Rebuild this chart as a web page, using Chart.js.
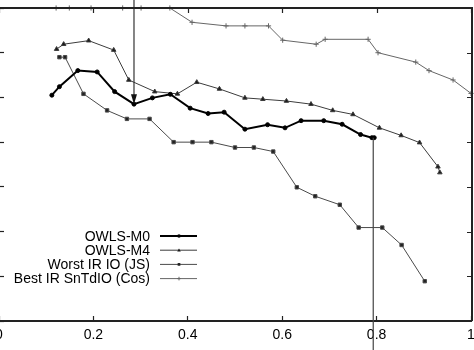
<!DOCTYPE html>
<html>
<head>
<meta charset="utf-8">
<script src="https://cdn.jsdelivr.net/npm/chart.js@4/dist/chart.umd.min.js"></script>
<style>
  html, body { margin: 0; padding: 0; background: #fff; }
  #wrap { position: relative; width: 474px; height: 350px; overflow: hidden; background: #fff; }
  #c { position: absolute; left: -60px; top: -40px; }
</style>
</head>
<body>
<div id="wrap"><canvas id="c" width="600" height="430"></canvas></div>
<script>
// Precision / recall curves
const recallM0    = [0.112, 0.128, 0.167, 0.208, 0.245, 0.286, 0.325, 0.363, 0.405, 0.443, 0.477, 0.521, 0.569, 0.606, 0.640, 0.688, 0.727, 0.766, 0.790, 0.795];
const precisionM0 = [0.805, 0.824, 0.860, 0.857, 0.813, 0.785, 0.799, 0.807, 0.776, 0.764, 0.767, 0.729, 0.739, 0.732, 0.748, 0.748, 0.740, 0.717, 0.710, 0.710];

const recallM4    = [0.122, 0.137, 0.190, 0.243, 0.275, 0.330, 0.378, 0.419, 0.467, 0.521, 0.559, 0.609, 0.661, 0.707, 0.750, 0.806, 0.852, 0.891, 0.930, 0.934];
const precisionM4 = [0.908, 0.919, 0.927, 0.906, 0.839, 0.813, 0.808, 0.834, 0.819, 0.799, 0.796, 0.792, 0.785, 0.771, 0.762, 0.732, 0.715, 0.699, 0.645, 0.632];

const recallWorst    = [0.128, 0.140, 0.179, 0.229, 0.271, 0.319, 0.370, 0.410, 0.450, 0.500, 0.540, 0.581, 0.631, 0.670, 0.722, 0.762, 0.812, 0.853, 0.902];
const precisionWorst = [0.890, 0.890, 0.808, 0.771, 0.752, 0.752, 0.700, 0.700, 0.700, 0.688, 0.688, 0.679, 0.599, 0.579, 0.560, 0.509, 0.509, 0.470, 0.389];

const recallBest    = [0.121, 0.149, 0.195, 0.262, 0.301, 0.362, 0.409, 0.481, 0.521, 0.571, 0.601, 0.672, 0.691, 0.782, 0.803, 0.883, 0.911, 0.962, 1.000];
const precisionBest = [1.000, 1.000, 1.000, 1.000, 1.000, 1.000, 0.968, 0.960, 0.960, 0.960, 0.928, 0.919, 0.930, 0.930, 0.900, 0.879, 0.860, 0.839, 0.809];

const seriesLabels = ['OWLS-M0', 'OWLS-M4', 'Worst IR IO (JS)', 'Best IR SnTdIO (Cos)'];

const xTickValues = [0, 0.2, 0.4, 0.6, 0.8, 1];
const xTickLabels = ['0', '0.2', '0.4', '0.6', '0.8', '1'];
const yTickValues = [0.3, 0.4, 0.5, 0.6, 0.7, 0.8, 0.9, 1.0];

// M0 points that the two pointer lines are attached to
const pointerDownIndex = 5;
const pointerUpIndex = recallM0.length - 1;

const FONT = "'Liberation Sans', Arial, Helvetica, sans-serif";
// the canvas is shifted inside the page; these convert page coords to canvas coords
const SHIFT_X = 60, SHIFT_Y = 40;
const FRAME_COLOR = '#222';
const TICK_LEN = 5;

const toPoints = (xs, ys) => xs.map((v, i) => ({ x: v, y: ys[i] }));

const datasets = [
  { label: seriesLabels[0], data: toPoints(recallM0, precisionM0),
    borderColor: '#000', backgroundColor: '#000', borderWidth: 2,
    pointStyle: 'circle', pointRadius: 2, pointBorderWidth: 1 },
  { label: seriesLabels[1], data: toPoints(recallM4, precisionM4),
    borderColor: '#3c3c3c', backgroundColor: '#1a1a1a', borderWidth: 1,
    pointStyle: 'triangle', pointRadius: 2.6, pointBorderWidth: 1 },
  { label: seriesLabels[2], data: toPoints(recallWorst, precisionWorst),
    borderColor: '#4a4a4a', backgroundColor: '#222', borderWidth: 1,
    pointStyle: 'rect', pointRadius: 2.4, pointBorderWidth: 1 },
  { label: seriesLabels[3], data: toPoints(recallBest, precisionBest),
    borderColor: '#666', backgroundColor: '#666', borderWidth: 1,
    pointStyle: 'cross', pointRadius: 2.6, pointBorderWidth: 1 }
];
datasets.forEach(d => { d.tension = 0; d.clip = false; d.fill = false; d.pointBorderColor = d.borderColor; d.pointBackgroundColor = d.backgroundColor; });

const fixedTicks = (values) => (scale) => { scale.ticks = values.map(v => ({ value: v })); };

// top and right frame lines with mirrored inward ticks, drawn over the curves
const framePlugin = {
  id: 'plotFrame',
  afterDraw(chart) {
    const { ctx, scales: { x, y } } = chart;
    const left = x.getPixelForValue(0), right = x.getPixelForValue(1);
    const top = y.getPixelForValue(1.0), bottom = y.getPixelForValue(0.3);
    ctx.save();
    ctx.strokeStyle = FRAME_COLOR;
    ctx.lineWidth = 2;
    ctx.beginPath();
    ctx.moveTo(left - 2, top);
    ctx.lineTo(right + 1, top);
    ctx.lineTo(right + 1, bottom);
    ctx.stroke();
    ctx.lineWidth = 1.2;
    ctx.beginPath();
    xTickValues.forEach(v => {
      const px = Math.round(x.getPixelForValue(v)) + 0.5;
      ctx.moveTo(px, top); ctx.lineTo(px, top + TICK_LEN);
    });
    yTickValues.forEach(v => {
      const py = Math.round(y.getPixelForValue(v)) + 0.5;
      ctx.moveTo(right + 1, py); ctx.lineTo(right + 1 - TICK_LEN, py);
    });
    ctx.stroke();
    ctx.restore();
  }
};

// vertical pointer lines attached to OWLS-M0 points
const pointerPlugin = {
  id: 'pointers',
  afterDatasetsDraw(chart) {
    const { ctx, scales: { x, y } } = chart;
    ctx.save();
    ctx.strokeStyle = '#333';
    ctx.fillStyle = '#111';
    ctx.lineWidth = 1.2;
    // downward arrow from above the plot
    let px = x.getPixelForValue(recallM0[pointerDownIndex]);
    let py = y.getPixelForValue(precisionM0[pointerDownIndex]);
    ctx.beginPath();
    ctx.moveTo(px, 0);
    ctx.lineTo(px, py - 6);
    ctx.stroke();
    ctx.beginPath();
    ctx.moveTo(px, py);
    ctx.lineTo(px - 3, py - 10);
    ctx.lineTo(px + 3, py - 10);
    ctx.closePath();
    ctx.fill();
    // line from the last point down past the axis
    px = x.getPixelForValue(recallM0[pointerUpIndex]) - 1;
    py = y.getPixelForValue(precisionM0[pointerUpIndex]);
    ctx.strokeStyle = '#444';
    ctx.beginPath();
    ctx.moveTo(px, py);
    ctx.lineTo(px, chart.height);
    ctx.stroke();
    ctx.restore();
  }
};

function drawMarker(ctx, style, cx, cy, r) {
  ctx.beginPath();
  if (style === 'circle') {
    ctx.arc(cx, cy, r, 0, Math.PI * 2); ctx.fill();
  } else if (style === 'triangle') {
    ctx.moveTo(cx, cy - r); ctx.lineTo(cx + r, cy + r * 0.7); ctx.lineTo(cx - r, cy + r * 0.7); ctx.closePath(); ctx.fill();
  } else if (style === 'rect') {
    ctx.rect(cx - r * 0.75, cy - r * 0.75, r * 1.5, r * 1.5); ctx.fill();
  } else {
    ctx.moveTo(cx - r, cy); ctx.lineTo(cx + r, cy); ctx.moveTo(cx, cy - r); ctx.lineTo(cx, cy + r); ctx.stroke();
  }
}

// gnuplot style key: right aligned text with sample line to its right
const keyPlugin = {
  id: 'key',
  afterDraw(chart) {
    const { ctx } = chart;
    const textRight = 150 + SHIFT_X, lineL = 160 + SHIFT_X, lineR = 197 + SHIFT_X, mark = 179 + SHIFT_X;
    const top = 236 + SHIFT_Y, step = 14.2;
    ctx.save();
    ctx.font = '14px ' + FONT;
    ctx.textAlign = 'right';
    ctx.textBaseline = 'middle';
    chart.data.datasets.forEach((d, i) => {
      const yy = top + i * step;
      ctx.fillStyle = '#000';
      ctx.fillText(d.label, textRight, yy + 1);
      ctx.strokeStyle = d.borderColor;
      ctx.lineWidth = d.borderWidth;
      ctx.beginPath();
      ctx.moveTo(lineL, yy); ctx.lineTo(lineR, yy); ctx.stroke();
      ctx.fillStyle = d.backgroundColor;
      ctx.strokeStyle = d.borderColor;
      ctx.lineWidth = 1;
      drawMarker(ctx, d.pointStyle, mark, yy, 1.8);
    });
    ctx.restore();
  }
};

const borderStyle = { display: true, color: FRAME_COLOR, width: 2 };
const gridStyle = { drawOnChartArea: false, drawTicks: true, tickLength: -TICK_LEN, color: FRAME_COLOR, tickWidth: 1.2 };

new Chart(document.getElementById('c'), {
  type: 'line',
  data: { datasets },
  options: {
    responsive: false,
    animation: false,
    devicePixelRatio: 1,
    layout: { padding: { left: 0, right: 69, top: 48, bottom: 0 } },
    plugins: { legend: { display: false }, tooltip: { enabled: false } },
    scales: {
      x: {
        type: 'linear', position: 'bottom', min: 0, max: 1,
        afterBuildTicks: fixedTicks(xTickValues),
        afterFit: (s) => { s.height = 69; },
        border: borderStyle, grid: gridStyle,
        ticks: { color: '#000', padding: 11, maxRotation: 0, autoSkip: false,
                 font: { family: FONT, size: 14 },
                 callback: (v) => xTickLabels[xTickValues.indexOf(v)] }
      },
      y: {
        type: 'linear', position: 'left', min: 0.3, max: 1.0,
        afterBuildTicks: fixedTicks(yTickValues),
        afterFit: (s) => { s.width = 59; },
        border: borderStyle, grid: gridStyle, ticks: { display: false }
      }
    }
  },
  plugins: [pointerPlugin, keyPlugin, framePlugin]
});
</script>
</body>
</html>
